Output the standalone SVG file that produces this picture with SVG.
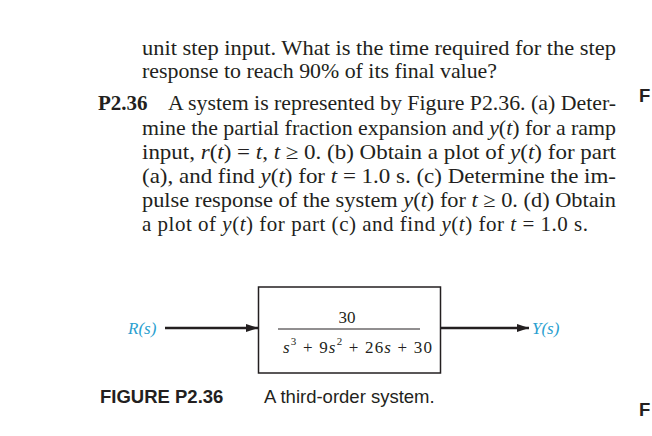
<svg xmlns="http://www.w3.org/2000/svg" width="652" height="436" viewBox="0 0 652 436">
<style>
.i{font-style:italic}
</style>
<defs><marker id="ah" markerWidth="12" markerHeight="8" refX="12" refY="4" orient="auto" markerUnits="userSpaceOnUse"><path d="M0,0 L12,4 L0,8 z" fill="#231f20"/></marker></defs>
<rect width="652" height="436" fill="#fff"/>
<g font-family="Liberation Serif, serif" font-size="21" fill="#231f20">
<text x="142" y="55" textLength="474" lengthAdjust="spacingAndGlyphs">unit step input. What is the time required for the step</text>
<text x="142" y="78" textLength="355" lengthAdjust="spacingAndGlyphs">response to reach 90% of its final value?</text>
<text x="98" y="110" font-weight="bold">P2.36</text>
<text x="168" y="110" textLength="448" lengthAdjust="spacingAndGlyphs">A system is represented by Figure P2.36. (a) Deter-</text>
<text x="142" y="135" textLength="474" lengthAdjust="spacingAndGlyphs">mine the partial fraction expansion and <tspan class="i">y</tspan>(<tspan class="i">t</tspan>) for a ramp</text>
<text x="142" y="159" textLength="474" lengthAdjust="spacingAndGlyphs">input, <tspan class="i">r</tspan>(<tspan class="i">t</tspan>) = <tspan class="i">t</tspan>, <tspan class="i">t</tspan> ≥ 0. (b) Obtain a plot of <tspan class="i">y</tspan>(<tspan class="i">t</tspan>) for part</text>
<text x="142" y="183" textLength="474" lengthAdjust="spacingAndGlyphs">(a), and find <tspan class="i">y</tspan>(<tspan class="i">t</tspan>) for <tspan class="i">t</tspan> = 1.0 s. (c) Determine the im-</text>
<text x="142" y="207" textLength="474" lengthAdjust="spacingAndGlyphs">pulse response of the system <tspan class="i">y</tspan>(<tspan class="i">t</tspan>) for <tspan class="i">t</tspan> ≥ 0. (d) Obtain</text>
<text x="142" y="231" textLength="446" lengthAdjust="spacing">a plot of <tspan class="i">y</tspan>(<tspan class="i">t</tspan>) for part (c) and find <tspan class="i">y</tspan>(<tspan class="i">t</tspan>) for <tspan class="i">t</tspan> = 1.0 s.</text>
</g>
<g id="connectors" stroke="#231f20" stroke-width="2.5" fill="none">
<line x1="165" y1="328" x2="258" y2="328" marker-end="url(#ah)"/>
<line x1="441" y1="328" x2="529" y2="328" marker-end="url(#ah)"/>
</g>
<g id="input"><text font-family="Liberation Serif, serif" font-size="17" font-style="italic" fill="#2a9fd0" x="128" y="334">R(s)</text></g>
<g id="output"><text font-family="Liberation Serif, serif" font-size="17" font-style="italic" fill="#2a9fd0" x="532" y="334">Y(s)</text></g>
<g id="block" font-family="Liberation Serif, serif" font-size="17" fill="#231f20">
<rect x="258.5" y="287" width="182" height="86" fill="#fff" stroke="#231f20" stroke-width="1.5"/>
<text x="347" y="323" text-anchor="middle">30</text>
<line x1="278" y1="329" x2="420" y2="329" stroke="#231f20" stroke-width="1"/>
<text x="283" y="353" textLength="149" lengthAdjust="spacing"><tspan font-style="italic">s</tspan><tspan font-size="11" dy="-8">3</tspan><tspan dy="8"> + 9</tspan><tspan font-style="italic">s</tspan><tspan font-size="11" dy="-8">2</tspan><tspan dy="8"> + 26</tspan><tspan font-style="italic">s</tspan> + 30</text>
</g>
<g font-family="Liberation Sans, sans-serif" font-size="18.5" fill="#231f20">
<text x="100" y="403"><tspan font-weight="bold">FIGURE P2.36</tspan><tspan x="264">A third-order system.</tspan></text>
<text x="639" y="102" font-weight="bold">F</text>
<text x="639" y="416" font-weight="bold">F</text>
</g>
</svg>
